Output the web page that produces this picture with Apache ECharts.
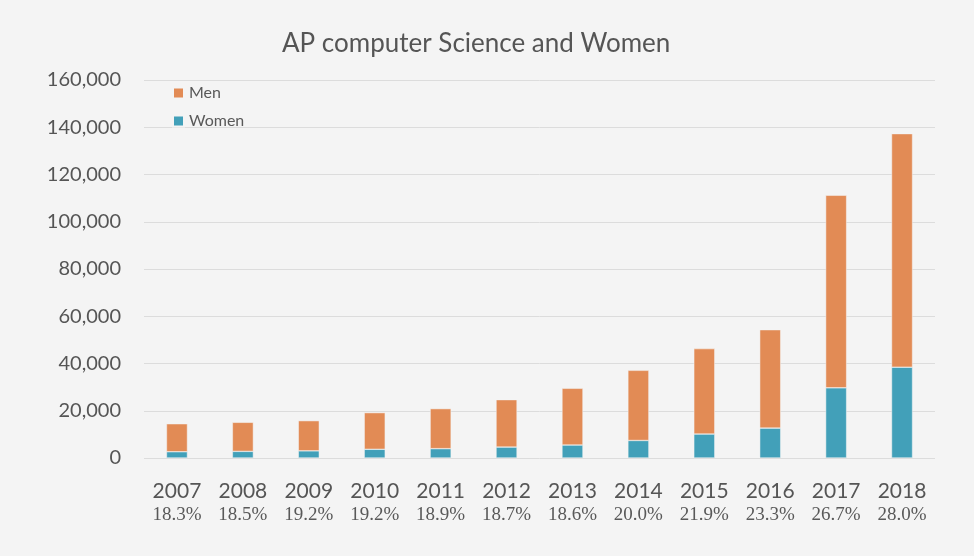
<!DOCTYPE html>
<html><head><meta charset="utf-8">
<script src="https://cdn.jsdelivr.net/npm/echarts@6/dist/echarts.min.js"></script>
<style>html,body{margin:0;padding:0;background:#f4f4f4}#c{width:974px;height:556px}</style>
</head><body><div id="c"></div>
<script>
const years = ['2007','2008','2009','2010','2011','2012','2013','2014','2015','2016','2017','2018'];
const womenPct = ['18.3%','18.5%','19.2%','19.2%','18.9%','18.7%','18.6%','20.0%','21.9%','23.3%','26.7%','28.0%'];
const women = [2650, 2800, 3030, 3690, 3950, 4620, 5490, 7420, 10140, 12650, 29690, 38440];
const men = [11850, 12300, 12770, 15510, 16950, 20080, 24010, 29680, 36160, 41650, 81510, 98860];
const yTicks = [0, 20000, 40000, 60000, 80000, 100000, 120000, 140000, 160000];

const chart = echarts.init(document.getElementById('c'));
chart.setOption({
  backgroundColor: '#f4f4f4',
  animation: false,
  title: {
    text: 'AP computer Science and Women',
    left: 277, top: 26,
    textStyle: {fontFamily: 'Lato', fontSize: 26, fontWeight: 'normal', color: '#555555'}
  },
  legend: {
    orient: 'vertical', left: 167, top: 80, itemGap: 12,
    itemWidth: 11, itemHeight: 11, icon: 'rect',
    data: ['Men', 'Women'],
    textStyle: {fontFamily: 'Lato', fontSize: 16, color: '#595959'}
  },
  grid: {left: 144, right: 39, top: 80, bottom: 98, containLabel: false},
  xAxis: {
    type: 'category', data: years,
    axisLine: {show: false}, axisTick: {show: false},
    axisLabel: {
      margin: 21, interval: 0,
      formatter: (v, i) => '{y|' + v + '}\n{p|' + womenPct[i] + '}',
      rich: {
        y: {fontFamily: 'Lato', fontSize: 21, color: '#555555', lineHeight: 25},
        p: {fontFamily: 'Liberation Serif', fontSize: 19, color: '#595959', lineHeight: 23}
      }
    }
  },
  yAxis: {
    type: 'value', min: yTicks[0], max: yTicks[yTicks.length - 1], interval: 20000,
    axisLine: {show: false}, axisTick: {show: false},
    splitLine: {lineStyle: {color: '#dcdcdc', width: 1}},
    axisLabel: {
      margin: 23,
      formatter: v => v.toLocaleString('en-US'),
      fontFamily: 'Lato', fontSize: 20, color: '#555555'
    }
  },
  series: [
    {name: 'Women', type: 'bar', stack: 't', data: women, barWidth: 21,
     itemStyle: {color: '#42a0b9', borderColor: '#f4f4f4', borderWidth: 0.5}},
    {name: 'Men', type: 'bar', stack: 't', data: men, barWidth: 21,
     itemStyle: {color: '#e28b55', borderColor: '#f4f4f4', borderWidth: 0.5}}
  ]
});
</script></body></html>
